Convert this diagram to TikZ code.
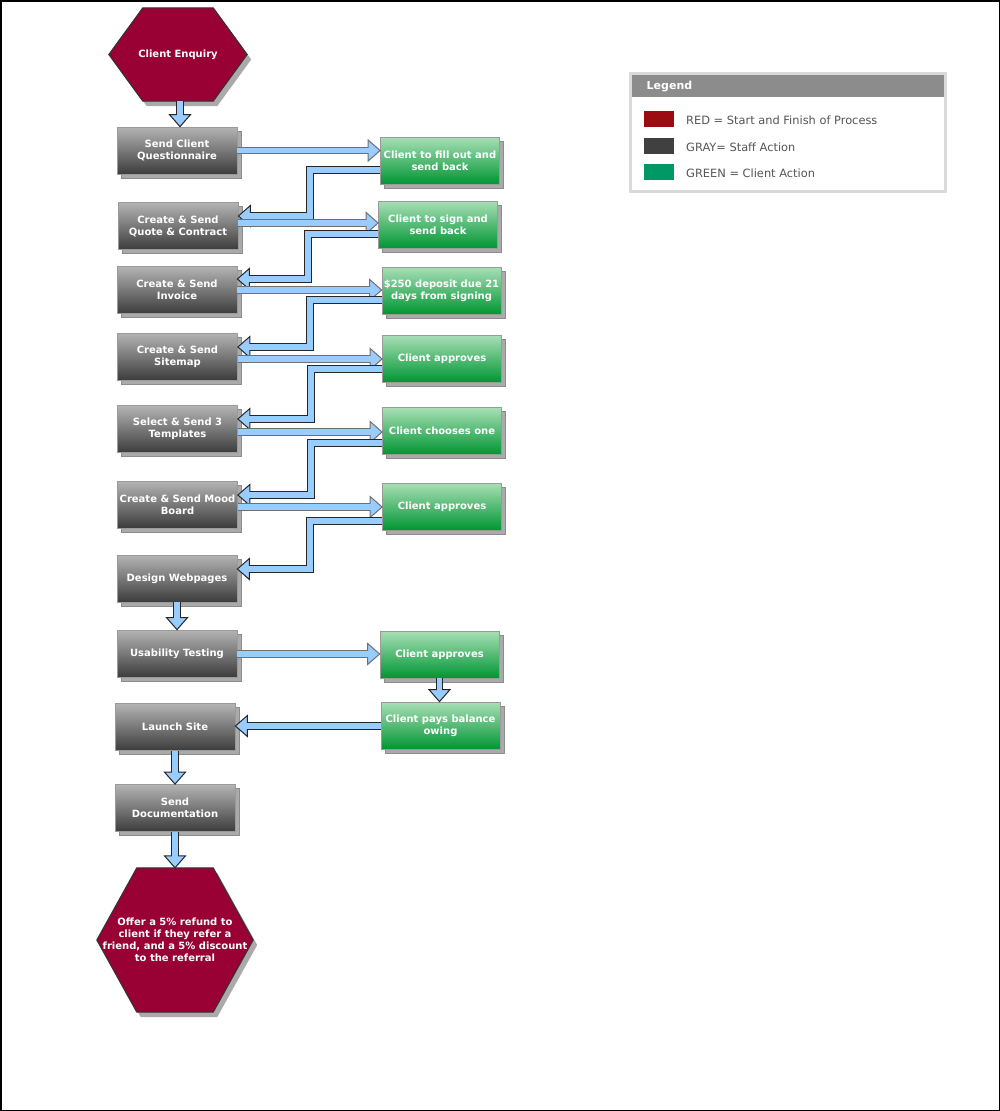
\documentclass[tikz,border=0pt]{standalone}
\usepackage{fontspec}
\setmainfont{DejaVu Sans}
\usetikzlibrary{calc,shadows,backgrounds}

\definecolor{hexred}{HTML}{990033}
\definecolor{hexline}{HTML}{333333}
\definecolor{shadowfill}{HTML}{AAAAAA}
\definecolor{shadowline}{HTML}{8C8C8C}
\definecolor{graytop}{HTML}{B4B4B4}
\definecolor{graybot}{HTML}{3C3C3C}
\definecolor{boxline}{HTML}{9A9A9A}
\definecolor{greentop}{HTML}{A8DFB6}
\definecolor{greenbot}{HTML}{009633}
\definecolor{arrowblue}{HTML}{99CCFF}
\definecolor{darkline}{HTML}{262626}
\definecolor{grayline}{HTML}{707070}
\definecolor{legborder}{HTML}{D9D9D9}
\definecolor{leghead}{HTML}{8C8C8C}
\definecolor{legred}{HTML}{9C0A12}
\definecolor{leggray}{HTML}{404040}
\definecolor{leggreen}{HTML}{009966}
\definecolor{legtext}{HTML}{555555}

\tikzset{
  boxbase/.style={rectangle, minimum width=120pt, minimum height=47pt, inner sep=0pt,
    draw=boxline, line width=0.8pt, text=white, align=center,
    font=\bfseries\fontsize{10}{12}\selectfont,
    drop shadow={shadow xshift=4pt, shadow yshift=-4pt, fill=shadowfill, draw=shadowline, opacity=1}},
  staff/.style={boxbase, top color=graytop, bottom color=graybot},
  client/.style={boxbase, minimum width=119pt, top color=greentop, bottom color=greenbot},
  hexnode/.style={rectangle, inner sep=0pt, text=white, align=center,
    font=\bfseries\fontsize{10}{12}\selectfont},
  shaftout/.style={draw=#1, line width=7.5pt, line join=miter, shorten >=11pt},
  shaftin/.style={draw=arrowblue, line width=5.5pt, line join=miter, shorten >=11pt},
  ahead/.pic={\filldraw[fill=arrowblue, line width=1pt, line join=miter] (0,0) -- (-12,-10.5) -- (-12,10.5) -- cycle;},
  swatch/.style={rectangle, minimum width=30pt, minimum height=16pt, inner sep=0pt},
  legtxt/.style={anchor=west, inner sep=0pt, text=legtext, font=\fontsize{11.4}{13}\selectfont},
}

\newcommand\hexshape[2]{%
  \fill[shadowfill] ($(#1.north west)+(#2+4,5)$) -- ($(#1.north east)+(-#2+4,5)$) -- ($(#1.east)+(4,5)$) -- ($(#1.south east)+(-#2+4,5)$) -- ($(#1.south west)+(#2+4,5)$) -- ($(#1.west)+(4,5)$) -- cycle;
  \filldraw[fill=hexred, draw=hexline, line width=1pt] ($(#1.north west)+(#2,0)$) -- ($(#1.north east)+(-#2,0)$) -- (#1.east) -- ($(#1.south east)+(-#2,0)$) -- ($(#1.south west)+(#2,0)$) -- (#1.west) -- cycle;}

\newcommand\harrow[4]{%
  \draw[shaftout=#1] #2;
  \pic[rotate=#4, color=#1] at #3 {ahead};
  \draw[shaftin] #2;}

\begin{document}
\begin{tikzpicture}[x=1pt, y=-1pt]
\useasboundingbox (0,0) rectangle (1000,1111);

% start / end hexagons
\node[hexnode, minimum width=138pt, minimum height=93pt] (e1) at (178,54.5) {Client Enquiry};
\node[hexnode, minimum width=156pt, minimum height=144pt] (e2) at (175,940) {Offer a 5\% refund to\\client if they refer a\\friend, and a 5\% discount\\to the referral};
\begin{scope}[on background layer]
  \fill[white] (0,0) rectangle (1000,1111);
  \draw[black, line width=1.5pt] (0.75,0.75) rectangle (999.25,1110.25);
  \hexshape{e1}{34}
  \hexshape{e2}{40}
\end{scope}

% staff actions
\node[staff] (q1) at (177,150.5) {Send Client\\Questionnaire};
\node[staff] (q2) at (178,226) {Create \& Send\\Quote \& Contract};
\node[staff] (q3) at (177,290) {Create \& Send\\Invoice};
\node[staff] (q4) at (177.5,356.5) {Create \& Send\\Sitemap};
\node[staff] (q5) at (177.5,429) {Select \& Send 3\\Templates};
\node[staff] (q6) at (177.5,504.5) {Create \& Send Mood\\Board};
\node[staff] (q7) at (177,578.5) {Design Webpages};
\node[staff] (q8) at (177,653.5) {Usability Testing};
\node[staff] (q9) at (175,727) {Launch Site};
\node[staff] (q10) at (175,808) {Send\\Documentation};

% client actions
\node[client] (g1) at (440,160.5) {Client to fill out and\\send back};
\node[client] (g2) at (438,224.5) {Client to sign and\\send back};
\node[client] (g3) at (441.5,290.5) {\$250 deposit due 21\\days from signing};
\node[client] (g4) at (442,358.5) {Client approves};
\node[client] (g5) at (442,431) {Client chooses one};
\node[client] (g6) at (442,506.5) {Client approves};
\node[client] (g7) at (439.5,654.5) {Client approves};
\node[client] (g8) at (440.5,725.5) {Client pays balance\\owing};

% connector end points
\coordinate (s1) at ($(e1.south)+(2,0)$);
\coordinate (t1) at ($(q1.north)+(3,0)$);
\coordinate (a3) at ($(g1.west)+(0,9.5)$);
\coordinate (b3) at ($(q2.east)+(0,-10)$);
\coordinate (a4) at ($(q2.east)+(0,-3)$);
\coordinate (a5) at ($(g2.west)+(0,9.5)$);
\coordinate (b5) at ($(q3.east)+(0,-11)$);
\coordinate (a7) at ($(g3.west)+(0,9.5)$);
\coordinate (b7) at ($(q4.east)+(0,-9.5)$);
\coordinate (a8) at ($(q4.east)+(0,2.5)$);
\coordinate (a9) at ($(g4.west)+(0,10.5)$);
\coordinate (b9) at ($(q5.east)+(0,-10)$);
\coordinate (a10) at ($(q5.east)+(0,3)$);
\coordinate (a11) at ($(g5.west)+(0,12)$);
\coordinate (b11) at ($(q6.east)+(0,-9.5)$);
\coordinate (a12) at ($(q6.east)+(0,2.5)$);
\coordinate (a13) at ($(g6.west)+(0,14.5)$);
\coordinate (b13) at ($(q7.east)+(0,-9.5)$);
\coordinate (a15) at ($(q8.east)+(0,0.5)$);
\coordinate (a17) at ($(g8.west)+(0,0.5)$);

% connectors
\harrow{darkline}{(s1) -- (t1)}{(t1)}{-90}
\harrow{grayline}{(q1.east) -- (q1.east -| g1.west)}{(q1.east -| g1.west)}{0}
\harrow{darkline}{(a3) -- (310,170) -- (310,216) -- (b3)}{(b3)}{180}
\harrow{grayline}{(a4) -- (a4 -| g2.west)}{(a4 -| g2.west)}{0}
\harrow{darkline}{(a5) -- (308,234) -- (308,279) -- (b5)}{(b5)}{180}
\harrow{grayline}{(q3.east) -- (q3.east -| g3.west)}{(q3.east -| g3.west)}{0}
\harrow{darkline}{(a7) -- (310,300) -- (310,347) -- (b7)}{(b7)}{180}
\harrow{grayline}{(a8) -- (a8 -| g4.west)}{(a8 -| g4.west)}{0}
\harrow{darkline}{(a9) -- (311,369) -- (311,419) -- (b9)}{(b9)}{180}
\harrow{grayline}{(a10) -- (a10 -| g5.west)}{(a10 -| g5.west)}{0}
\harrow{darkline}{(a11) -- (311,443) -- (311,495) -- (b11)}{(b11)}{180}
\harrow{grayline}{(a12) -- (a12 -| g6.west)}{(a12 -| g6.west)}{0}
\harrow{darkline}{(a13) -- (310,521) -- (310,569) -- (b13)}{(b13)}{180}
\harrow{darkline}{(q7.south) -- (q8.north)}{(q8.north)}{-90}
\harrow{grayline}{(a15) -- (a15 -| g7.west)}{(a15 -| g7.west)}{0}
\harrow{darkline}{(g7.south) -- (g7.south |- g8.north)}{(g7.south |- g8.north)}{-90}
\harrow{darkline}{(a17) -- (a17 -| q9.east)}{(a17 -| q9.east)}{180}
\harrow{darkline}{(q9.south) -- (q10.north)}{(q10.north)}{-90}
\harrow{darkline}{(q10.south) -- (e2.north)}{(e2.north)}{-90}

% legend
\draw[legborder, line width=3pt, fill=white] (630.5,73.5) rectangle (945,191.5);
\fill[leghead] (632,75) rectangle (943.5,97);
\node[anchor=west, inner sep=0pt, text=white, font=\bfseries\fontsize{11}{13}\selectfont] (lhead) at (646.5,86.5) {Legend};
\node[swatch, fill=legred] (sw1) at (659,119) {};
\node[swatch, fill=leggray] (sw2) at (659,146) {};
\node[swatch, fill=leggreen] (sw3) at (659,171.5) {};
\node[legtxt] (lt1) at (686,120.5) {RED = Start and Finish of Process};
\node[legtxt] (lt2) at (686,147) {GRAY= Staff Action};
\node[legtxt] (lt3) at (686,173) {GREEN = Client Action};
\end{tikzpicture}
\end{document}
